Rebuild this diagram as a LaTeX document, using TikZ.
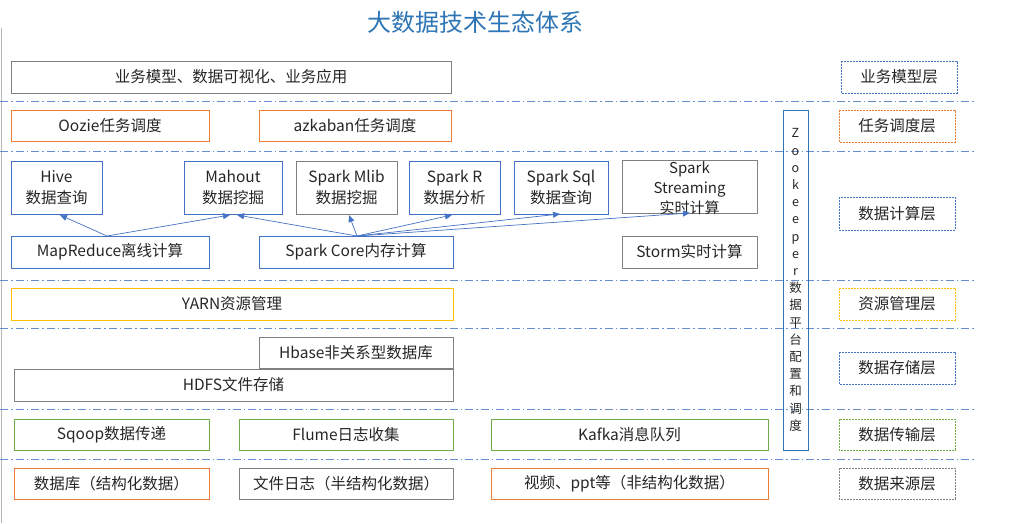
\documentclass[tikz,border=0pt]{standalone}
\usepackage{fontspec}
\setmainfont{Noto Sans CJK SC}
\usetikzlibrary{arrows.meta}
\definecolor{bblue}{RGB}{68,114,196}
\definecolor{bgray}{RGB}{128,128,128}
\definecolor{borange}{RGB}{237,125,49}
\definecolor{byellow}{RGB}{255,192,0}
\definecolor{bgreen}{RGB}{112,173,71}
\definecolor{tblue}{RGB}{46,117,182}
\begin{document}
\begin{tikzpicture}[x=1pt,y=-1pt,
  bx/.style={draw=#1,line width=0.8pt},
  lay/.style={draw=#1,line width=0.8pt,dashed,dash pattern=on 2pt off 1pt},
  txt/.style={font=\fontsize{15.5}{19}\selectfont,text=black!85,align=center},
  sep/.style={draw=bblue!80,line width=0.6pt,dash pattern=on 8pt off 3pt on 1.5pt off 3pt},
  arr/.style={draw=bblue,line width=0.7pt,-{Triangle[length=7pt,width=6pt]}}]
\useasboundingbox (0,0) rectangle (1023,523);
\draw[bgray!60] (1,28) -- (1,523);
\node[font=\fontsize{24}{28}\selectfont,text=tblue] (title) at (475,22) {大数据技术生态体系};
% separators
\foreach \y/\n in {101/s1,151/s2,280/s3,328/s4,409/s5,459/s6}
  \draw[sep] (0,\y) coordinate (\n a) -- (975,\y) coordinate (\n b);
% row 1
\draw[bx=bgray] (11,61) rectangle (451,93); \node[txt] (biz) at (231,77) {业务模型、数据可视化、业务应用};
\draw[lay=bblue] (841,61) rectangle (957,93); \node[txt] (l1) at (899,77) {业务模型层};
% row 2
\draw[bx=borange] (11,110) rectangle (209,141); \node[txt] (oozie) at (110,126) {Oozie任务调度};
\draw[bx=borange] (259,110) rectangle (451,141); \node[txt] (azk) at (355,126) {azkaban任务调度};
\draw[lay=borange] (839,110) rectangle (955,142); \node[txt] (l2) at (897,126) {任务调度层};
% zookeeper
\draw[bx=tblue] (783,110) rectangle (808,450);
\node[font=\fontsize{12.5}{17.2}\selectfont,align=center,text=black!85] (zk) at (795.5,280) {Z\\o\\o\\k\\e\\e\\p\\e\\r\\数\\据\\平\\台\\配\\置\\和\\调\\度};
% compute
\draw[bx=bblue] (11,161) rectangle (102,214); \node[txt,font=\fontsize{15.5}{21}\selectfont] (hive) at (56.5,187.5) {Hive\\数据查询};
\draw[bx=bblue] (184,161) rectangle (282,214); \node[txt,font=\fontsize{15.5}{21}\selectfont] (mahout) at (233,187.5) {Mahout\\数据挖掘};
\draw[bx=bgray] (296,161) rectangle (397,214); \node[txt,font=\fontsize{15.5}{21}\selectfont] (mlib) at (346.5,187.5) {Spark Mlib\\数据挖掘};
\draw[bx=bblue] (409,161) rectangle (500,214); \node[txt,font=\fontsize{15.5}{21}\selectfont] (sr) at (454.5,187.5) {Spark R\\数据分析};
\draw[bx=bblue] (514,161) rectangle (608,214); \node[txt,font=\fontsize{15.5}{21}\selectfont] (sql) at (561,187.5) {Spark Sql\\数据查询};
\draw[bx=bgray] (622,160) rectangle (757,213); \node[txt,font=\fontsize{15}{20}\selectfont] (ss) at (689.5,188) {Spark\\Streaming\\实时计算};
\draw[bx=bblue] (11,236) rectangle (209,268); \node[txt] (mr) at (110,252) {MapReduce离线计算};
\draw[bx=bblue] (259,236) rectangle (453,268); \node[txt] (core) at (356,252) {Spark Core内存计算};
\draw[bx=bgray] (622,236) rectangle (757,268); \node[txt] (storm) at (689.5,252) {Storm实时计算};
\draw[lay=bblue] (839,197) rectangle (955,230); \node[txt] (l3) at (897,213.5) {数据计算层};
\coordinate (mrt) at (107,236); \coordinate (coret) at (357,236);
\draw[arr] (mrt) -- (60,215);
\draw[arr] (mrt) -- (230,215);
\draw[arr] (coret) -- (237,215);
\draw[arr] (coret) -- (349,215);
\draw[arr] (coret) -- (452,215);
\draw[arr] (coret) -- (560,214);
\draw[arr] (coret) -- (690,213);
% resource
\draw[bx=byellow] (11,288) rectangle (453,320); \node[txt] (yarn) at (232,304) {YARN资源管理};
\draw[lay=byellow] (839,288) rectangle (955,320); \node[txt] (l4) at (897,304) {资源管理层};
% storage
\draw[bx=bgray] (259,337) rectangle (453,368); \node[txt] (hbase) at (356,352.5) {Hbase非关系型数据库};
\draw[bx=bgray] (14,369) rectangle (453,401); \node[txt] (hdfs) at (233.5,385) {HDFS文件存储};
\draw[lay=bblue] (839,352) rectangle (955,384); \node[txt] (l5) at (897,368) {数据存储层};
% transfer
\draw[bx=bgreen] (14,419) rectangle (209,450); \node[txt] (sqoop) at (111.5,434.5) {Sqoop数据传递};
\draw[bx=bgreen] (239,419) rectangle (453,450); \node[txt] (flume) at (346,434.5) {Flume日志收集};
\draw[bx=bgreen] (491,419) rectangle (768,450); \node[txt] (kafka) at (629.5,434.5) {Kafka消息队列};
\draw[lay=bgreen] (839,419) rectangle (955,450); \node[txt] (l6) at (897,434.5) {数据传输层};
% source
\draw[bx=borange] (14,468) rectangle (209,499); \node[txt] (db) at (111.5,483.5) {数据库（结构化数据）};
\draw[bx=bgray] (239,468) rectangle (453,499); \node[txt] (log) at (346,483.5) {文件日志（半结构化数据）};
\draw[bx=borange] (491,468) rectangle (768,499); \node[txt] (video) at (629.5,483.5) {视频、ppt等（非结构化数据）};
\draw[lay=bgray] (839,468) rectangle (955,499); \node[txt] (l7) at (897,483.5) {数据来源层};
\end{tikzpicture}
\end{document}
